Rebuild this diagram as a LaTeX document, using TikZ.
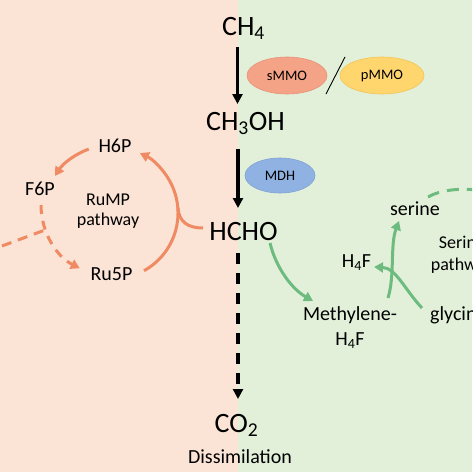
\documentclass[tikz,border=0pt]{standalone}
\usepackage{fontspec}
\setmainfont{Carlito}
\usetikzlibrary{arrows.meta,shapes.geometric}
\definecolor{bgL}{HTML}{FBE3D6}
\definecolor{bgG}{HTML}{E2F0DA}
\definecolor{orL}{HTML}{EF8A62}
\definecolor{grL}{HTML}{6DBB7E}
\definecolor{smmoF}{HTML}{F4A387}
\definecolor{smmoD}{HTML}{E8937A}
\definecolor{pmmoF}{HTML}{FFD56E}
\definecolor{pmmoD}{HTML}{F2C458}
\definecolor{mdhF}{HTML}{8FB2E2}
\definecolor{mdhD}{HTML}{7FA2D4}
\begin{document}
\begin{tikzpicture}[x=1pt,y=-1pt,
  chem/.style={font=\fontsize{28}{32}\selectfont, inner sep=0pt, anchor=base},
  spec/.style={font=\fontsize{20}{22}\selectfont, inner sep=0pt, anchor=base},
  lab/.style={font=\fontsize{18}{20}\selectfont, inner sep=0pt, anchor=base},
  enz/.style={ellipse, font=\fontsize{14.5}{16}\selectfont, inner sep=0pt, line width=0.6pt},
  blk/.style={line width=3.2pt, -{Triangle[length=10pt,width=10pt]}},
  orc/.style={draw=orL, line width=3pt, line cap=butt},
  ora/.style={orc, -{Triangle[length=9pt,width=10pt]}},
  grc/.style={draw=grL, line width=3pt},
  gra/.style={grc, -{Triangle[length=9pt,width=10pt]}},
]
\useasboundingbox (0,0) rectangle (474,474);
\fill[white] (0,0) rectangle (474,474);
\begin{scope}
\clip (0,0) rectangle (472,472);
\fill[bgL] (0,0) rectangle (238,472);
\fill[bgG] (238,0) rectangle (472,472);

% main chain
\node[chem] (ch4) at (243.5,35) {CH\textsubscript{4}};
\node[chem] (ch3oh) at (245.5,130) {CH\textsubscript{3}OH};
\node[chem] (hcho) at (243.5,240) {HCHO};
\node[chem] (co2) at (236.5,432) {CO\textsubscript{2}};
\node[lab, font=\fontsize{20}{22}\selectfont] (diss) at (240,463) {Dissimilation};

\coordinate (a1s) at (237.5,47);
\coordinate (a1e) at (237.5,104);
\coordinate (a2s) at (238,149);
\coordinate (a2e) at (238,208);
\coordinate (a3s) at (238,253);
\coordinate (a3e) at (238,399);
\draw[blk] (a1s) -- (a1e);
\draw[blk] (a2s) -- (a2e);
\draw[blk, dash pattern=on 11pt off 9pt] (a3s) -- (a3e);

% enzymes
\node[enz, fill=smmoF, draw=smmoD, minimum width=80pt, minimum height=37pt] (smmo) at (287,75.5) {sMMO};
\node[enz, fill=pmmoF, draw=pmmoD, minimum width=84pt, minimum height=37pt] (pmmo) at (382,75.5) {pMMO};
\coordinate (sl1) at (326,94);
\coordinate (sl2) at (345,57);
\draw[line width=0.9pt] (sl1) -- (sl2);
\node[enz, fill=mdhF, draw=mdhD, minimum width=70pt, minimum height=35pt] (mdh) at (280,175.5) {MDH};

% RuMP cycle
\node[spec] (h6p) at (115,152) {H6P};
\node[spec] (f6p) at (40,195) {F6P};
\node[spec] (ru5p) at (111.5,280) {Ru5P};
\node[lab] (rump1) at (108,205) {RuMP};
\node[lab] (rump2) at (108,225) {pathway};

\coordinate (o1s) at (88.7,149.1);
\draw[ora] (o1s) arc[start angle=-110, end angle=-147, radius=68];
\coordinate (o2s) at (144,270.7);
\draw[ora] (o2s) arc[start angle=61, end angle=-65, radius=66];
\coordinate (o3s) at (41,205);
\draw[ora, dash pattern=on 9pt off 7pt] (o3s) arc[start angle=-180, end angle=-243, radius=71];
\coordinate (o4s) at (2,246);
\coordinate (o4e) at (45,230);
\draw[orc, dash pattern=on 10pt off 7pt] (o4s) -- (o4e);
\coordinate (o5s) at (203,228);
\coordinate (o5e) at (178,208);
\draw[orc] (o5s) .. controls (188,228) and (179,222) .. (o5e);

% Serine cycle
\node[spec] (meth) at (350,320) {Methylene-};
\node[spec] (meth2) at (350,345) {H\textsubscript{4}F};
\node[spec] (h4f) at (356.5,267) {H\textsubscript{4}F};
\node[spec] (serine) at (415,215) {serine};
\node[spec, anchor=base west] (gly) at (430,320) {glycine};
\node[lab] (ser1) at (462,248) {Serine};
\node[lab] (ser2) at (462,270) {pathway};

\coordinate (g1s) at (270,243);
\coordinate (g1e) at (313,301);
\draw[gra] (g1s) .. controls (276,268) and (292,289) .. (g1e);
\coordinate (g2s) at (388,298);
\coordinate (g2e) at (399,221);
\draw[gra] (g2s) .. controls (395,275) and (390,245) .. (g2e);
\coordinate (g3s) at (422,308);
\coordinate (g3e) at (374,267);
\draw[gra] (g3s) .. controls (405,290) and (396,268) .. (g3e);
\coordinate (g4s) at (428,197);
\coordinate (g4e) at (476,190);
\draw[grc, dash pattern=on 12pt off 8pt] (g4s) .. controls (440,190) and (460,188) .. (g4e);
\end{scope}
\end{tikzpicture}
\end{document}
